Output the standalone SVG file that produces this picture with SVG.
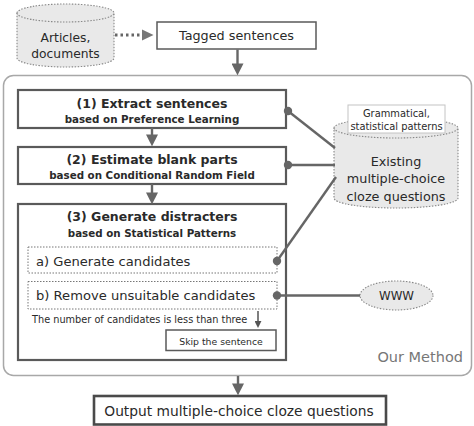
<svg xmlns="http://www.w3.org/2000/svg" width="474" height="426" viewBox="0 0 474 426">
<defs>
<style>
text{font-family:"DejaVu Sans","Liberation Sans",sans-serif;fill:#2a2a2a}
.b{font-weight:bold}
.box{fill:#fff;stroke:#5a5a5a;stroke-width:2.2}
.thin{fill:#fff;stroke:#5a5a5a;stroke-width:1.5}
.dot{fill:#fff;stroke:#777;stroke-width:1;stroke-dasharray:1.5 1.5}
.cyl{fill:#e9e9e9;stroke:#888;stroke-width:1.1;stroke-dasharray:1.5 1.5}
.ln{fill:none;stroke:#666;stroke-width:2.4}
.knob{fill:#666}
</style>
<marker id="ah" viewBox="0 0 10 10" refX="3" refY="5" markerWidth="12" markerHeight="12" markerUnits="userSpaceOnUse" orient="auto"><path d="M0,0 L10,5 L0,10 z" fill="#666"/></marker>
<marker id="ahs" viewBox="0 0 10 10" refX="3" refY="5" markerWidth="7" markerHeight="7" markerUnits="userSpaceOnUse" orient="auto"><path d="M0,0 L10,5 L0,10 z" fill="#555"/></marker>
</defs>

<g id="method">
<rect x="3.5" y="75.5" width="468" height="300" rx="10" fill="#fff" stroke="#a8a8a8" stroke-width="1.5"/>
<text x="463" y="362" font-size="14.5" text-anchor="end" fill="#777" style="fill:#777">Our Method</text>
</g>

<g id="articles">
<path class="cyl" d="M17,13 A48.5,9 0 0 1 114,13 V58 A48.5,9 0 0 1 17,58 Z"/>
<path class="cyl" d="M17,13 A48.5,9 0 0 0 114,13" fill="none"/>
<text x="65.5" y="42" font-size="12.3" text-anchor="middle">Articles,</text>
<text x="65.5" y="58" font-size="12.3" text-anchor="middle">documents</text>
</g>

<g id="tagged">
<rect class="thin" x="157" y="22" width="159" height="27"/>
<text x="236.5" y="40" font-size="12.8" text-anchor="middle">Tagged sentences</text>
</g>

<g id="step1">
<rect class="box" x="18" y="90" width="268" height="38"/>
<text class="b" x="152" y="107.5" font-size="12.5" text-anchor="middle">(1) Extract sentences</text>
<text class="b" x="152" y="122.5" font-size="10.3" text-anchor="middle">based on Preference Learning</text>
</g>

<g id="step2">
<rect class="box" x="18" y="147" width="268" height="37"/>
<text class="b" x="152" y="163.5" font-size="12.5" text-anchor="middle">(2) Estimate blank parts</text>
<text class="b" x="152" y="178.5" font-size="10.3" text-anchor="middle">based on Conditional Random Field</text>
</g>

<g id="step3">
<rect class="box" x="18" y="204" width="268" height="156"/>
<text class="b" x="152" y="220.5" font-size="12.5" text-anchor="middle">(3) Generate distracters</text>
<text class="b" x="152" y="236.5" font-size="10.3" text-anchor="middle">based on Statistical Patterns</text>
</g>

<g id="gen">
<rect class="dot" x="28" y="247" width="249" height="26"/>
<text x="36" y="265.5" font-size="13.1">a) Generate candidates</text>
</g>

<g id="remove">
<rect class="dot" x="28" y="281.5" width="249" height="27.5"/>
<text x="36" y="300" font-size="13.1">b) Remove unsuitable candidates</text>
</g>

<g id="cond">
<text x="32" y="322.5" font-size="9.75">The number of candidates is less than three</text>
</g>

<g id="skip">
<rect class="thin" x="166" y="330" width="110" height="20.5"/>
<text x="221" y="345" font-size="9.3" text-anchor="middle">Skip the sentence</text>
</g>

<g id="existing">
<path class="cyl" d="M334,128 A62,10 0 0 1 458,128 V198 A62,10 0 0 1 334,198 Z"/>
<path class="cyl" d="M334,128 A62,10 0 0 0 458,128" fill="none"/>
<rect x="348" y="105" width="97" height="28" fill="#fff" stroke="#c4c4c4" stroke-width="1"/>
<text x="396.5" y="117" font-size="9.9" text-anchor="middle">Grammatical,</text>
<text x="396.5" y="129.5" font-size="9.9" text-anchor="middle">statistical patterns</text>
<text x="396" y="165.5" font-size="12.8" text-anchor="middle">Existing</text>
<text x="396" y="183" font-size="12.8" text-anchor="middle">multiple-choice</text>
<text x="396" y="200.5" font-size="12.8" text-anchor="middle">cloze questions</text>
</g>

<g id="www">
<ellipse class="cyl" cx="396.5" cy="295.5" rx="36.5" ry="14.5"/>
<text x="396.5" y="299.5" font-size="11.8" text-anchor="middle">WWW</text>
</g>

<g id="output">
<rect x="94" y="396" width="292" height="28.5" fill="#fff" stroke="#4a4a4a" stroke-width="2.6"/>
<text x="239" y="415.5" font-size="13.8" text-anchor="middle">Output multiple-choice cloze questions</text>
</g>

<g id="connectors">
<line x1="115" y1="35" x2="142" y2="35" stroke="#666" stroke-width="3" stroke-dasharray="2.5 3"/>
<path d="M142,29.5 L153.5,35 L142,40.5 z" fill="#777"/>
<line class="ln" x1="237.5" y1="49.5" x2="237.5" y2="67" marker-end="url(#ah)"/>
<line class="ln" x1="152" y1="128" x2="152" y2="138" marker-end="url(#ah)"/>
<line class="ln" x1="152" y1="184" x2="152" y2="196" marker-end="url(#ah)"/>
<line x1="258" y1="311" x2="258" y2="323" stroke="#555" stroke-width="1.5" marker-end="url(#ahs)"/>
<line class="ln" x1="238" y1="376" x2="238" y2="387" marker-end="url(#ah)"/>
<line class="ln" x1="288" y1="111" x2="335" y2="148"/>
<line class="ln" x1="288" y1="165" x2="335" y2="165"/>
<line class="ln" x1="277" y1="261" x2="336" y2="177"/>
<line class="ln" x1="277" y1="295.5" x2="360" y2="295.5"/>
<circle class="knob" cx="288" cy="111" r="4.2"/>
<circle class="knob" cx="288" cy="165" r="4.2"/>
<circle class="knob" cx="277" cy="261" r="4.2"/>
<circle class="knob" cx="277" cy="295.5" r="4.2"/>
</g>
</svg>
